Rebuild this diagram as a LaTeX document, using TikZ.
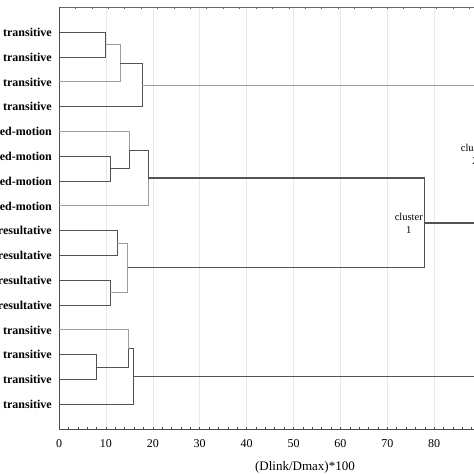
\documentclass[tikz,border=0pt]{standalone}
\usepackage{fontspec}
\setmainfont{Liberation Serif}
\begin{document}
\begin{tikzpicture}[x=1pt,y=-1pt,
		link/.style={line width=1.1pt, black!68},
		linklight/.style={line width=0.9pt, black!38},
		gridline/.style={black!9, line width=0.5pt},
		leaflabel/.style={anchor=east, inner sep=0pt, font=\bfseries\fontsize{12}{14}\selectfont},
		clusterlabel/.style={anchor=east, align=center, inner sep=1.4pt, font=\fontsize{10.5}{13}\selectfont}]
		\useasboundingbox (0,0) rectangle (474,474);
		\clip (0,0) rectangle (474,474);
		\begin{scope}[shift={(59,0)}, x=4.69pt]
		% ===== FRAME, GRID AND TICKS =====
		\foreach \v in {10,20,...,90} \draw[gridline] (\v,7) -- (\v,429);
		\draw[black!60, line width=0.6pt] (0,7) -- (110,7);
		\draw[black!70, line width=0.9pt] (0,7) -- (0,429) -- (110,429);
		\foreach \v in {2,4,...,96} \draw[black!70, line width=0.5pt] (\v,429) -- (\v,426.8);
		\foreach \v in {3.5,7,...,94} \draw[black!60, line width=0.5pt] (\v,7) -- (\v,9);
		\foreach \v in {0,10,...,80} \node[font=\fontsize{12}{14}\selectfont] (t\v) at (\v,444) {\v};
		\node[font=\fontsize{13}{15}\selectfont] (xlabel) at (52.45,467) {(Dlink/Dmax)*100};
		% ===== LEAVES =====
		\foreach \i/\lab in {1/transitive, 2/transitive, 3/transitive, 4/transitive,
			5/ed-motion, 6/ed-motion, 7/ed-motion, 8/ed-motion,
			9/resultative, 10/resultative, 11/resultative, 12/resultative,
			13/transitive, 14/transitive, 15/transitive, 16/transitive} {
			\pgfmathsetmacro\ly{32.3+24.8*(\i-1)}
			\coordinate (l\i) at (0,\ly);
			\node[leaflabel] (lab\i) at (-1.5,\ly) {\lab};
		}
		% ===== MERGE POINTS (distance, height) =====
		\coordinate (m12) at (10.0,44.7);
		\coordinate (m123) at (13.0,63.3);
		\coordinate (mA) at (17.8,85.0);
		\coordinate (m67) at (10.9,168.7);
		\coordinate (m567) at (15.1,150.1);
		\coordinate (mB) at (19.0,178.0);
		\coordinate (m910) at (12.4,243.1);
		\coordinate (m1112) at (10.9,292.7);
		\coordinate (mC) at (14.7,267.9);
		\coordinate (mBC) at (77.9,223.0);
		\coordinate (m1415) at (7.9,367.1);
		\coordinate (m13) at (14.9,348.5);
		\coordinate (mD) at (15.8,376.4);
		\coordinate (m2) at (92,154.0);
		\coordinate (root) at (98,265.2);
		% ===== FIRST GROUP =====
		\draw[link] (l1) -| (m12);
		\draw[link] (l2) -| (m12);
		\draw[linklight] (m12) -| (m123);
		\draw[linklight] (l3) -| (m123);
		\draw[link] (m123) -| (mA);
		\draw[link] (l4) -| (mA);
		\draw[linklight] (mA) -| (m2);
		% ===== SECOND GROUP =====
		\draw[link] (l6) -| (m67);
		\draw[link] (l7) -| (m67);
		\draw[linklight] (l5) -| (m567);
		\draw[link] (m67) -| (m567);
		\draw[link] (m567) -| (mB);
		\draw[linklight] (l8) -| (mB);
		% ===== THIRD GROUP =====
		\draw[link] (l9) -| (m910);
		\draw[link] (l10) -| (m910);
		\draw[link] (l11) -| (m1112);
		\draw[link] (l12) -| (m1112);
		\draw[linklight] (m910) -| (mC);
		\draw[linklight] (m1112) -| (mC);
		\draw[link] (mB) -| (mBC);
		\draw[link] (mC) -| (mBC);
		\draw[link] (mBC) -| (m2);
		% ===== FOURTH GROUP =====
		\draw[link] (l14) -| (m1415);
		\draw[link] (l15) -| (m1415);
		\draw[linklight] (l13) -| (m13);
		\draw[link] (m1415) -| (m13);
		\draw[link] (m13) -| (mD);
		\draw[link] (l16) -| (mD);
		\draw[link] (mD) -| (root);
		\draw[link] (m2) -| (root);
		% ===== CLUSTER LABELS =====
		\node[clusterlabel] (c1) at (mBC) {cluster\\1};
		\node[clusterlabel] (c2) at (m2) {cluster\\2};
		\end{scope}
	\end{tikzpicture}
\end{document}
